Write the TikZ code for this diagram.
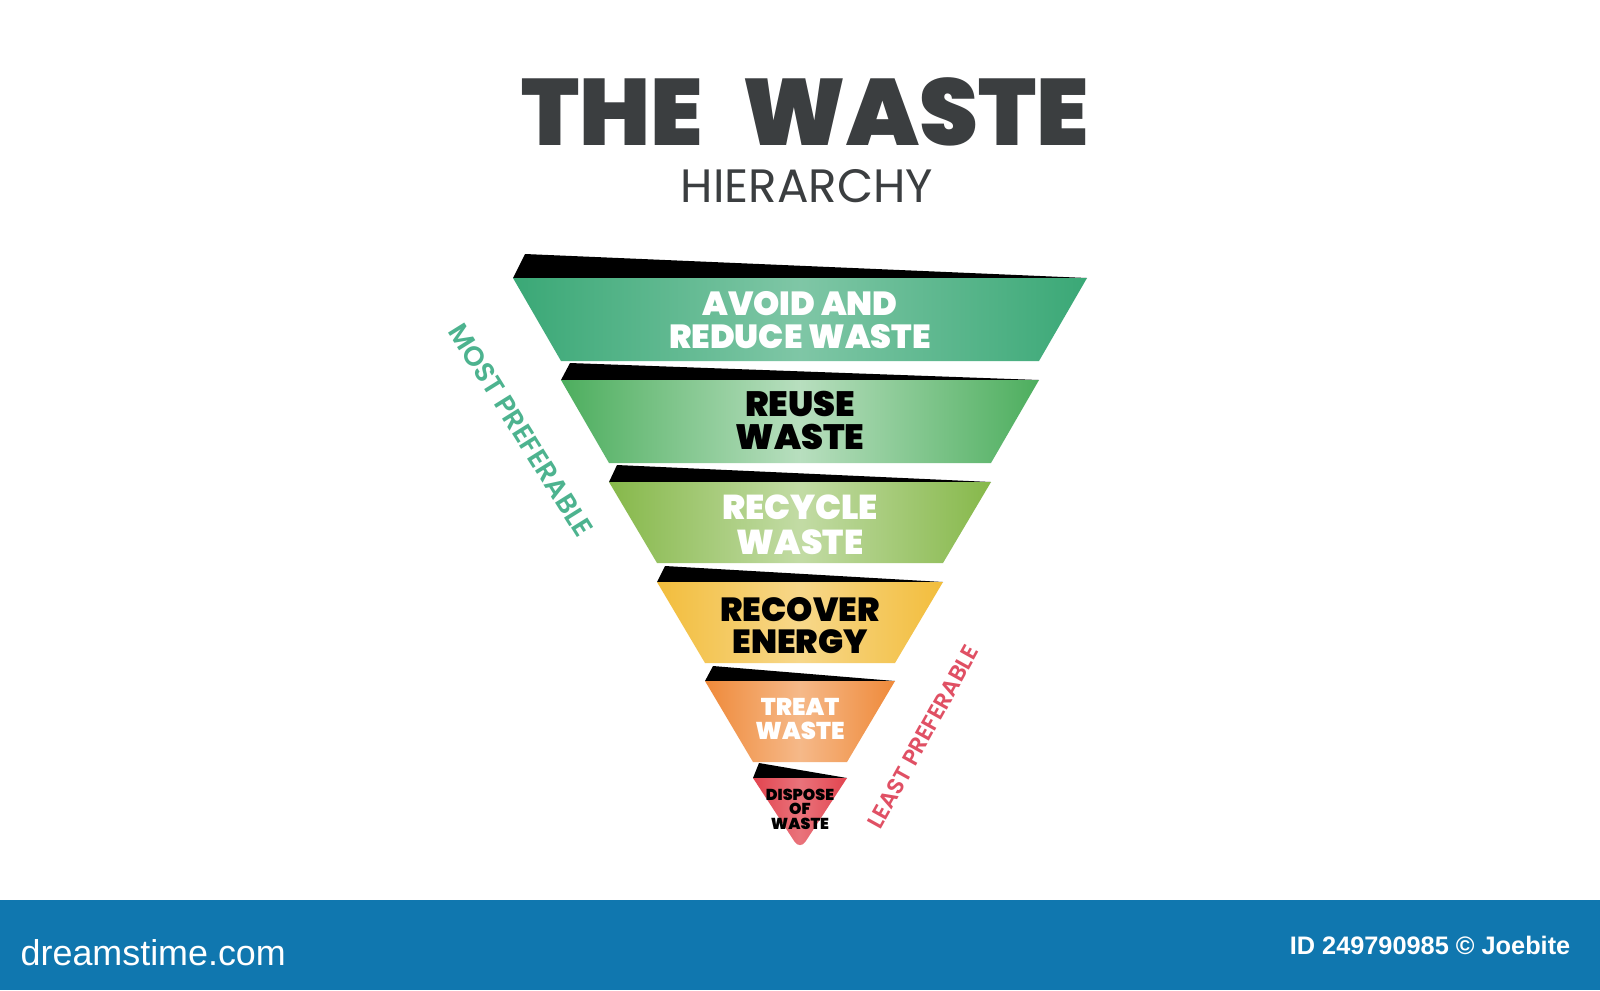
\documentclass[tikz,border=0pt]{standalone}
\usepackage{fontspec}
\setmainfont{Poppins}
\IfFontExistsTF{Poppins Black}{\newfontfamily\heavyfont{Poppins Black}}{\newfontfamily\heavyfont{Poppins}[FakeBold=2]}
\IfFontExistsTF{Poppins SemiBold}{\newfontfamily\midfont{Poppins SemiBold}}{\newfontfamily\midfont{Poppins}}
\newfontfamily\barfont{Liberation Sans}

\definecolor{titlegray}{HTML}{3B3E40}
\definecolor{avoidgreen}{HTML}{3AA876}
\definecolor{reusegreen}{HTML}{4DAE5E}
\definecolor{recycleolive}{HTML}{86B84A}
\definecolor{recoveryellow}{HTML}{F2BD3C}
\definecolor{treatorange}{HTML}{EF8A3A}
\definecolor{disposered}{HTML}{E2444F}
\definecolor{mostteal}{HTML}{4DB38F}
\definecolor{leastred}{HTML}{E05064}
\definecolor{barblue}{HTML}{1077AF}

\tikzset{
    fold/.style={fill=black},
    band/.style n args={2}{left color=#1, right color=#1, middle color=#1!#2!white},
    tiertext/.style={align=center, inner sep=0pt},
    sidetext/.style={inner sep=0pt}
    }

\begin{document}
\begin{tikzpicture}[x=0.01cm, y=-0.01cm]
                \fill[white] (0,0) rectangle (1600,990);
                \useasboundingbox (0,0) rectangle (1600,990);
                % The Title
                \node(title)[font=\heavyfont\fontsize{26.8}{28}\selectfont, text=titlegray] at (805,112) {THE\hspace{0.42em}WASTE};
                \node(subtitle)[font=\fontsize{13.3}{14}\selectfont, text=titlegray] at (807,186) {HIERARCHY};
                % The Funnel
                \fill[fold] (525,254) -- (513,278) -- (1087,278) -- cycle;
                \shade[band={avoidgreen}{65}] (513,278) -- (1087,278) -- (1039,361) -- (561,361) -- cycle;
                \fill[fold] (570,363) -- (561,380) -- (1039,380) -- cycle;
                \shade[band={reusegreen}{40}] (561,380) -- (1039,380) -- (991,463) -- (609,463) -- cycle;
                \fill[fold] (617,465) -- (609,482) -- (991,482) -- cycle;
                \shade[band={recycleolive}{50}] (609,482) -- (991,482) -- (943,563) -- (657,563) -- cycle;
                \fill[fold] (665,566) -- (657,582) -- (943,582) -- cycle;
                \shade[band={recoveryellow}{60}] (657,582) -- (943,582) -- (895,663) -- (705,663) -- cycle;
                \fill[fold] (713,666) -- (705,681) -- (895,681) -- cycle;
                \shade[band={treatorange}{60}] (705,681) -- (895,681) -- (847,762) -- (753,762) -- cycle;
                \fill[fold] (759,763) -- (753,778) -- (847,778) -- cycle;
                \shade[band={disposered}{75}] (847,778) -- (753,778) [rounded corners=1mm] -- (800,850) [sharp corners] -- cycle;
                % The Tiers
                \node(avoid)[tiertext, text=white, font=\heavyfont\fontsize{9.5}{9.4}\selectfont] at (800,320) {AVOID AND\\REDUCE WASTE};
                \node(reuse)[tiertext, text=black, font=\heavyfont\fontsize{10}{9.4}\selectfont] at (800,420) {REUSE\\WASTE};
                \node(recycle)[tiertext, text=white, font=\heavyfont\fontsize{9.8}{10}\selectfont] at (800,525) {RECYCLE\\WASTE};
                \node(recover)[tiertext, text=black, font=\heavyfont\fontsize{9.5}{9.1}\selectfont] at (800,626) {RECOVER\\ENERGY};
                \node(treat)[tiertext, text=white, font=\heavyfont\fontsize{6.9}{6.8}\selectfont] at (800,719) {TREAT\\WASTE};
                \node(dispose)[tiertext, text=black, font=\heavyfont\fontsize{4.5}{4.1}\selectfont] at (800,809) {DISPOSE\\OF\\WASTE};
                % The Sides
                \node(most)[sidetext, text=mostteal, rotate=-58, font=\midfont\fontsize{7.8}{7.8}\selectfont] at (521,430) {MOST PREFERABLE};
                \node(least)[sidetext, text=leastred, rotate=61, font=\midfont\fontsize{6.5}{6.5}\selectfont] at (923,737) {LEAST PREFERABLE};
                % The Bar
                \fill[barblue] (0,900) rectangle (1600,990);
                \node(site)[anchor=west, inner sep=0pt, text=white, font=\barfont\fontsize{10.2}{11}\selectfont] at (20,953) {dreamstime.com};
                \node(credit)[anchor=east, inner sep=0pt, text=white, font=\barfont\bfseries\fontsize{7.2}{8}\selectfont] at (1571,945) {ID 249790985 © Joebite};
            \end{tikzpicture}
\end{document}
